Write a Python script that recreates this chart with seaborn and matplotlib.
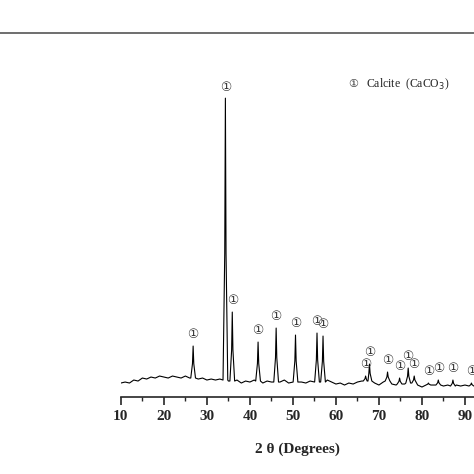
import matplotlib
matplotlib.use("Agg")
import matplotlib.pyplot as plt
from matplotlib.lines import Line2D
import seaborn as sns
import numpy as np
import pandas as pd

bg_angle = list(range(10, 93))
bg_int = [14,15,14,17,16,19,18,20,19,21,20,19,21,20,19,21,19,18,18,19,17,18,17,18,17,16,15,17,14,16,15,17,15,14,16,15,14,15,17,14,15,13,15,14,16,15,15,14,17,15,13,14,12,14,13,15,16,17,16,14,12,15,17,13,12,14,13,15,14,12,10,12,11,12,12,11,12,11,12,11,12,11,12]
peak_angle = [26.8, 34.3, 35.9, 41.9, 46.1, 50.6, 55.6, 57.0, 66.9, 67.8, 72.0, 74.8, 76.8, 78.2, 81.5, 83.8, 87.2, 91.5]
peak_int = [51, 299, 85, 55, 69, 62, 64, 61, 21, 33, 25, 19, 29, 21, 14, 17, 17, 14]
peak_base = [19, 17, 16, 16, 15, 15, 15, 15, 16, 16, 16, 13, 14, 14, 12, 12, 11, 11]

hw = 0.55
xs = []
ys = []
for a, v in zip(bg_angle, bg_int):
    if all(abs(a - p) > hw for p in peak_angle):
        xs.append(a); ys.append(v)
for p, h, b in zip(peak_angle, peak_int, peak_base):
    xs += [p - hw, p - 0.15, p, p + 0.15, p + hw]
    ys += [b, b + (h - b) * 0.45, h, b + (h - b) * 0.45, b]
df = pd.DataFrame({"angle": xs, "intensity": ys}).sort_values("angle")
df = df.drop_duplicates("angle")

sns.set_style("white")
plt.rcParams["font.family"] = ["Liberation Serif", "DejaVu Sans"]
fig = plt.figure(figsize=(4.74, 4.74), dpi=100)
ax = fig.add_axes([0.255, 0.1624, 0.745, 0.7676])
sns.lineplot(data=df, x="angle", y="intensity", ax=ax, color="black", lw=0.8,
             estimator=None, sort=False)
ax.set_xlim(10, 92.1)
ax.set_ylim(0, 364)
for s in ["left", "right", "top"]:
    ax.spines[s].set_visible(False)
fig.add_artist(Line2D([0, 1], [0.930, 0.930], color="#555555", lw=1.2, transform=fig.transFigure))
ax.spines["bottom"].set_linewidth(1.2)
ax.set_yticks([])
ax.set_xticks(range(10, 91, 10))
ax.set_xticks(range(15, 92, 10), minor=True)
ax.tick_params(axis="x", which="major", direction="out", length=6, width=1.2, bottom=True, labelsize=11)
ax.tick_params(axis="x", which="minor", direction="out", length=3, width=1, bottom=True)
for t in ax.get_xticklabels():
    t.set_fontweight("bold")
ax.set_xlabel("2 θ (Degrees)", fontsize=11, fontweight="bold", labelpad=14)
ax.set_ylabel("")

for p, h in zip(peak_angle, peak_int):
    ax.annotate("①", (p, h), xytext=(0, 8), textcoords="offset points", ha="center", va="center",
                fontsize=9, family=["DejaVu Sans"], color="#333333", annotation_clip=False)
ax.text(0.645, 0.86, "①", transform=ax.transAxes, fontsize=8, family=["DejaVu Sans"], va="center", color="#333333")
ax.text(0.695, 0.86, "Calcite  (CaCO$_3$)", transform=ax.transAxes, fontsize=8.5, va="center")
fig.savefig("out.png", dpi=100)
